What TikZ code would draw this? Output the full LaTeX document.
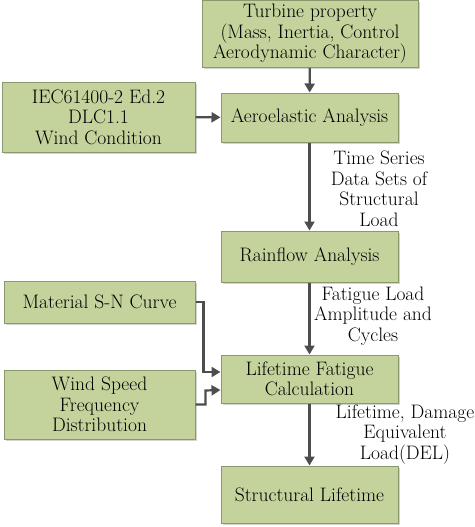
\documentclass[tikz,border=0pt]{standalone}
\usepackage{tikz}
\usetikzlibrary{positioning}
\usetikzlibrary{arrows.meta,shadows}
\definecolor{boxgreen}{HTML}{C4D39C}
\definecolor{boxline}{HTML}{8A996C}
\definecolor{flowgray}{HTML}{4D4D4D}
\tikzset{
  block/.style={draw=boxline, line width=1pt, fill=boxgreen, align=center, inner sep=2pt,
    drop shadow={shadow xshift=1.5pt, shadow yshift=-1.5pt, opacity=0.35}},
  flow/.style={draw=flowgray, line width=2.2pt, -{Triangle[length=9pt,width=10pt]}},
  note/.style={align=center, inner sep=0pt}
}
\begin{document}
\begin{tikzpicture}[x=1pt, y=-1pt, font=\fontsize{19.5}{20.5}\selectfont]
\useasboundingbox (0,0) rectangle (474,527);
\node[block, minimum width=216pt, minimum height=67pt] (turbine) at (310,34) {Turbine property\\(Mass, Inertia, Control\\Aerodynamic Character)};
\node[block, minimum width=193pt, minimum height=70pt] (iec) at (98.5,117) {IEC61400-2 Ed.2\\DLC1.1\\Wind Condition};
\node[block, minimum width=177pt, minimum height=49pt] (aero) at (309.5,117.5) {Aeroelastic Analysis};
\node[block, minimum width=177pt, minimum height=51pt] (rain) at (309.5,256.5) {Rainflow Analysis};
\node[block, minimum width=191pt, minimum height=42pt] (material) at (99.5,302) {Material S-N Curve};
\node[block, minimum width=177pt, minimum height=48pt] (fatigue) at (309.5,379) {Lifetime Fatigue\\Calculation};
\node[block, minimum width=191pt, minimum height=69pt] (wind) at (99.5,404.5) {Wind Speed\\Frequency\\Distribution};
\node[block, minimum width=177pt, minimum height=57pt] (life) at (309.5,494.5) {Structural Lifetime};
% labels beside the arrows
\node[note] (series) at (379,189) {Time Series\\Data Sets of\\Structural\\Load};
\node[note] (cycles) at (373,316) {Fatigue Load\\Amplitude and\\Cycles};
\node[note] (del) at (405,434.5) {Lifetime, Damage\\Equivalent\\Load(DEL)};
% connectors
\draw[flow] (turbine) -- (aero);
\draw[flow] (iec) -- (aero);
\draw[flow] (aero) -- (rain);
\draw[flow] (rain) -- (fatigue);
\draw[flow] (fatigue) -- (life);
\draw[flow] (material.east) -| ++(8,70) -- ([yshift=7pt]fatigue.west);
\draw[flow] (wind.east) -| ++(10,-14) -- ([yshift=-11pt]fatigue.west);
\end{tikzpicture}
\end{document}
